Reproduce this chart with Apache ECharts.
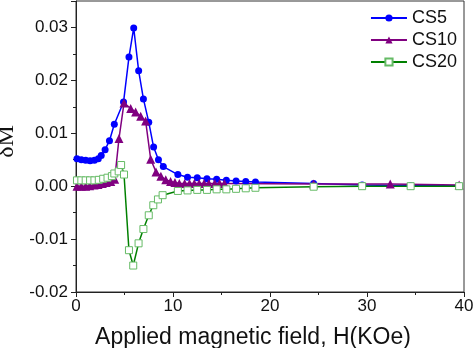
<!DOCTYPE html>
<html>
<head>
<meta charset="utf-8">
<script src="https://cdn.jsdelivr.net/npm/echarts@6/dist/echarts.min.js"></script>
<style>html,body{margin:0;padding:0;background:#fff}#c{width:474px;height:348px}</style>
</head>
<body>
<div id="c"></div>
<script>
var seriesNames = ['CS5', 'CS10', 'CS20'];
var cs5X = [0.1, 0.55, 1.0, 1.45, 1.9, 2.3, 2.6, 3.0, 3.45, 3.95, 4.9, 5.46, 5.95, 6.46, 6.95, 7.5, 8.0, 8.5, 9.0, 10.5, 11.5, 12.5, 13.5, 14.5, 15.5, 16.5, 17.5, 18.5, 24.5, 29.5, 34.5, 39.5];
var cs5Y = [0.0052, 0.0050, 0.0049, 0.0048, 0.0049, 0.0052, 0.0058, 0.0069, 0.0086, 0.0117, 0.0159, 0.0244, 0.0299, 0.0218, 0.0165, 0.0121, 0.0074, 0.0050, 0.0037, 0.0022, 0.0017, 0.0016, 0.0014, 0.0013, 0.0011, 0.0010, 0.0009, 0.0008, 0.0005, 0.0002, 0.0001, 0.0001];
var cs10X = [0.1, 0.55, 1.0, 1.41, 1.86, 2.27, 2.71, 3.12, 3.58, 3.99, 4.43, 4.95, 5.64, 6.15, 6.67, 7.18, 7.7, 8.25, 8.75, 9.25, 9.75, 10.2, 10.65, 11.2, 11.7, 12.2, 12.7, 13.2, 13.7, 14.3, 14.8, 15.3, 24.5, 32.4, 39.5];
var cs10Y = [0.0000, 0.0000, 0.0000, 0.0001, 0.0002, 0.0003, 0.0005, 0.0007, 0.0009, 0.0013, 0.0090, 0.0157, 0.0147, 0.0140, 0.0132, 0.0123, 0.0051, 0.0027, 0.0019, 0.0012, 0.0009, 0.0007, 0.0005, 0.0005, 0.0005, 0.0005, 0.0005, 0.0005, 0.0005, 0.0005, 0.0005, 0.0005, 0.0004, 0.0004, 0.0002];
var cs20X = [0.1, 0.55, 1.0, 1.45, 1.9, 2.35, 2.8, 3.25, 3.7, 3.95, 4.4, 4.65, 4.95, 5.46, 5.9, 6.45, 6.95, 7.5, 7.97, 8.45, 8.93, 10.5, 11.5, 12.5, 13.5, 14.5, 15.5, 16.5, 17.5, 18.5, 24.5, 29.5, 34.5, 39.5];
var cs20Y = [0.0011, 0.0011, 0.0011, 0.0011, 0.0011, 0.0012, 0.0014, 0.0016, 0.0019, 0.0024, 0.0028, 0.0040, 0.0022, -0.0121, -0.0150, -0.0108, -0.0081, -0.0055, -0.0036, -0.0025, -0.0017, -0.0009, -0.0008, -0.0007, -0.0007, -0.0006, -0.0006, -0.0005, -0.0004, -0.0003, -0.0001, 0.0000, 0.0000, 0.0000];
var xTicks = [0, 10, 20, 30, 40];
var yTicks = [-0.02, -0.01, 0.00, 0.01, 0.02, 0.03];

function pairs(xs, ys) { return xs.map(function (x, i) { return [x, ys[i]]; }); }

var chart = echarts.init(document.getElementById('c'), null, {renderer: 'canvas'});
var axisCommon = {
  axisLine: {show: true, onZero: false, lineStyle: {color: '#222', width: 1}},
  axisTick: {show: true, inside: false, length: 5, lineStyle: {color: '#222'}},
  minorTick: {show: true, splitNumber: 2, length: 3, lineStyle: {color: '#222'}},
  splitLine: {show: false},
  axisLabel: {color: '#111', fontSize: 17, fontFamily: 'Liberation Sans, Arial, sans-serif'}
};
chart.setOption({
  animation: false,
  backgroundColor: '#fff',
  grid: {left: 76, right: 10, top: 1, bottom: 56, show: true, borderColor: '#333', borderWidth: 1,
    containLabel: false, outerBoundsMode: 'none'},
  legend: {
    orient: 'vertical', right: 12, top: 4, itemWidth: 36, itemHeight: 9, itemGap: 4,
    textStyle: {fontSize: 18, color: '#111', fontFamily: 'Liberation Sans, Arial, sans-serif'},
    data: seriesNames
  },
  xAxis: Object.assign({}, axisCommon, {
    type: 'value', min: xTicks[0], max: xTicks[xTicks.length - 1], interval: 10,
    name: 'Applied magnetic field, H(KOe)', nameLocation: 'middle', nameGap: 34,
    nameTextStyle: {fontSize: 23, color: '#111', fontFamily: 'Liberation Sans, Arial, sans-serif',
      padding: [0, 34, 0, 0]},
    axisLabel: Object.assign({}, axisCommon.axisLabel, {margin: 6})
  }),
  yAxis: Object.assign({}, axisCommon, {
    type: 'value', min: yTicks[0], max: 0.035, interval: 0.01,
    name: 'δM', nameLocation: 'middle', nameGap: 52, nameRotate: 90,
    nameTextStyle: {fontSize: 24, color: '#111', fontFamily: 'Liberation Serif, Times New Roman, serif',
      padding: [0, 0, 0, 10]},
    axisLabel: Object.assign({}, axisCommon.axisLabel, {margin: 8, showMaxLabel: false,
      formatter: function (v) { return yTicks.some(function (t) { return Math.abs(t - v) < 1e-9; }) ? v.toFixed(2) : ''; }})
  }),
  series: [
    {name: seriesNames[0], type: 'line', data: pairs(cs5X, cs5Y), symbol: 'circle', symbolSize: 7,
      lineStyle: {color: '#0000ff', width: 1.5}, itemStyle: {color: '#0000ff'}},
    {name: seriesNames[1], type: 'line', data: pairs(cs10X, cs10Y), symbol: 'triangle', symbolSize: 9,
      lineStyle: {color: '#800080', width: 1.5}, itemStyle: {color: '#800080'}},
    {name: seriesNames[2], type: 'line', data: pairs(cs20X, cs20Y), symbol: 'rect', symbolSize: 7,
      lineStyle: {color: '#008000', width: 1.5}, itemStyle: {color: '#ffffff', borderColor: '#66bb66', borderWidth: 1}}
  ]
});
</script>
</body>
</html>
